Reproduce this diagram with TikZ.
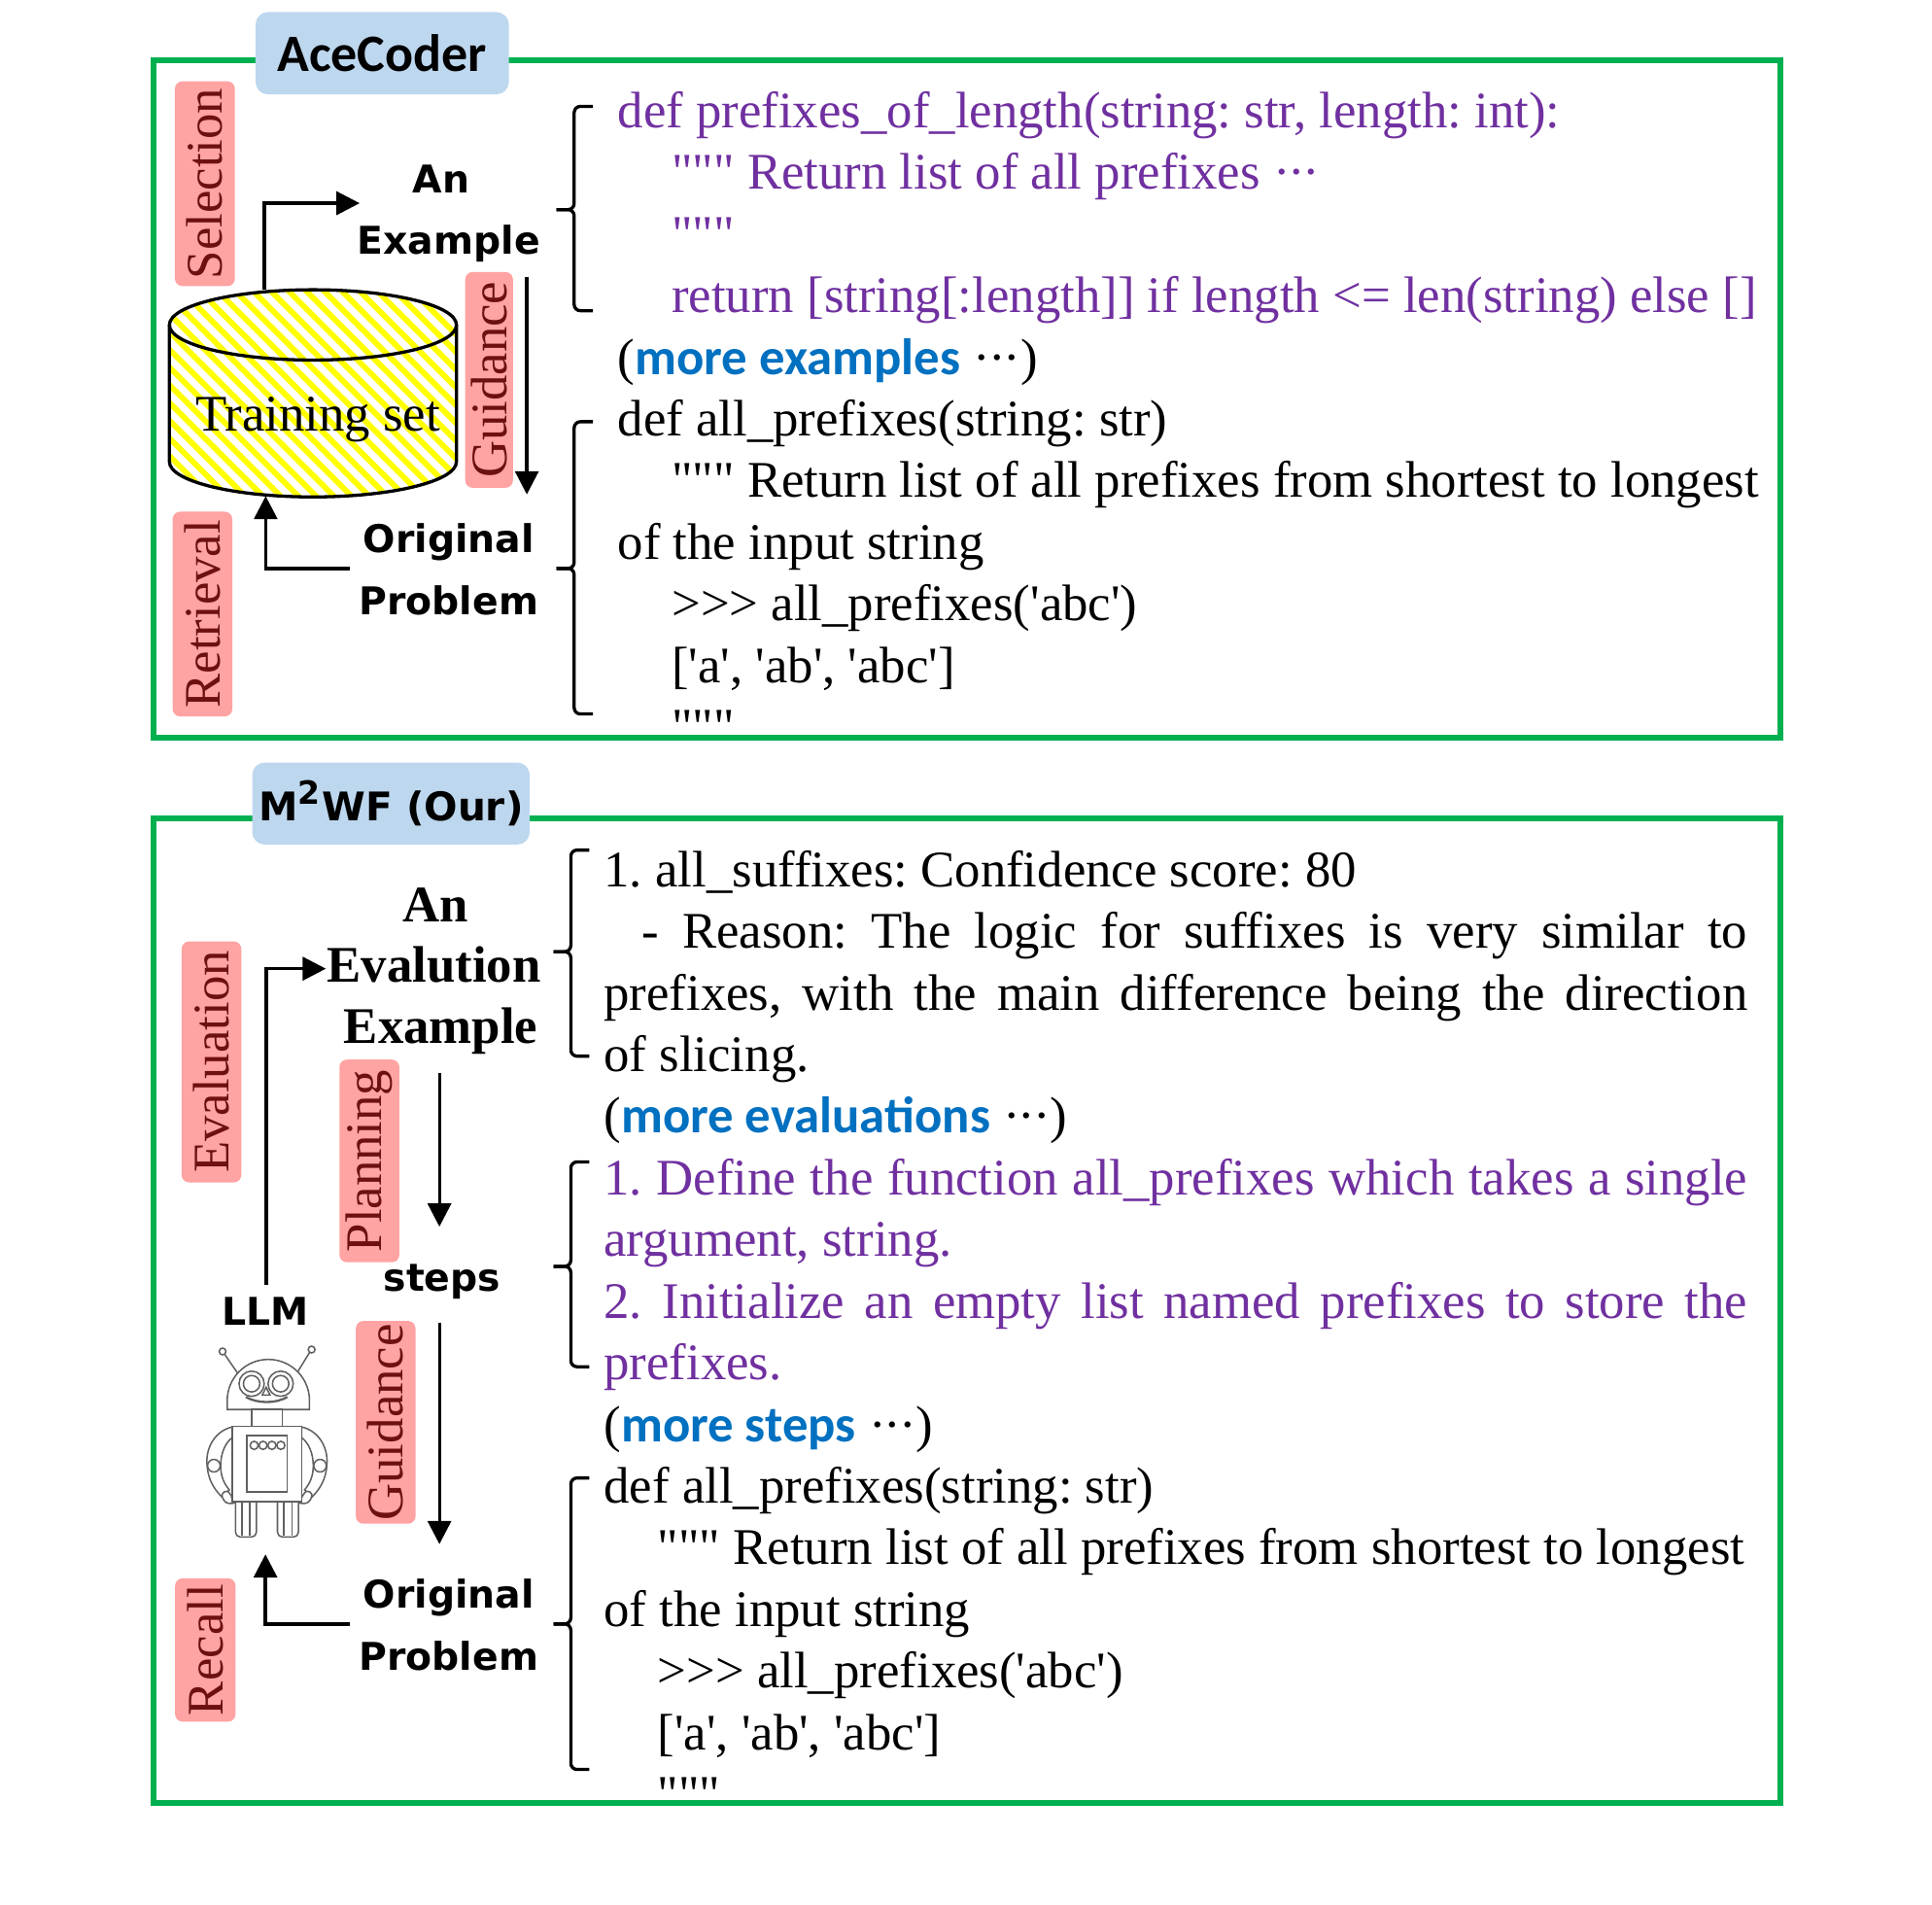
\documentclass[tikz,border=0pt]{standalone}
\usepackage{fontspec}
\setmainfont{Liberation Serif}[Ligatures={TeXOff,CommonOff}]
\newfontfamily\vfont{DejaVu Sans}
\newfontfamily\cfont{Carlito}
\usetikzlibrary{arrows.meta}
\definecolor{framegreen}{HTML}{00B050}
\definecolor{titleblue}{HTML}{BDD7EE}
\definecolor{tagpink}{HTML}{FFA3A3}
\definecolor{tagred}{HTML}{6E1010}
\definecolor{codepurple}{HTML}{7030A0}
\definecolor{moreblue}{HTML}{0070C0}
\definecolor{stripeyellow}{HTML}{FFFF00}
\definecolor{robotgray}{HTML}{606060}
\newcommand\cdts{·\kern-0.04em·\kern-0.04em·}
\newcommand\moretxt[1]{{\cfont\bfseries\color{moreblue}#1}}
\newcommand\robothalf{%
  \draw[fill=white] (240,1468) .. controls (222,1472) and (212,1490) .. (214,1508)
     .. controls (215,1522) and (221,1532) .. (229,1540) -- (237,1533)
     .. controls (231,1526) and (228,1518) .. (228,1508)
     .. controls (228,1495) and (233,1484) .. (240,1479) -- cycle;
  \draw[fill=white] (221,1508) circle[radius=6.5];
  \draw[fill=white, rounded corners=1.5pt] (228,1537) -- (233,1547) -- (244,1547) -- (248,1539) -- (242,1535) -- (239,1541) -- (236,1533) -- cycle;
  \draw[fill=white, rounded corners=2pt] (243.3,1545) -- (243.3,1581.7) -- (265,1581.7) -- (265,1545);
  \draw (250,1545) -- (250,1580);
  \draw (258.3,1545) -- (258.3,1580);
}
\begin{document}
\frenchspacing
\begin{tikzpicture}[x=0.5pt,y=-0.5pt,
  frame/.style={draw=framegreen, line width=2.3pt},
  titlebox/.style={fill=titleblue, rounded corners=5pt, inner sep=0pt},
  tagbox/.style={rotate=90, fill=tagpink, rounded corners=3pt, text=tagred, inner sep=0pt, font=\fontsize{20.8}{24}\selectfont},
  codeln/.style={anchor=base west, inner sep=0pt, font=\fontsize{20.8}{25}\selectfont},
  purp/.style={text=codepurple},
  lblsans/.style={anchor=base, inner sep=0pt, font=\vfont\bfseries\fontsize{15.5}{18}\selectfont},
  lblserif/.style={anchor=base, inner sep=0pt, font=\bfseries\fontsize{20.8}{24}\selectfont},
  arr/.style={line width=1.3pt, -{Triangle[length=9.4pt, width=9.4pt]}},
  cyl/.style={line width=1.3pt},
  bracel/.style={line width=1.3pt, rounded corners=2.5pt},
  robotline/.style={draw=robotgray, line width=0.6pt}]
\useasboundingbox (0,0) rectangle (1567,1544.9);

% ---------- top frame ----------
\draw[frame] (124.3,49) rectangle (1444,598.5);
\node[titlebox, minimum width=102.7pt, minimum height=33.35pt, font=\cfont\bfseries\fontsize{21.3}{24}\selectfont] (ace) at (310,43.2) {AceCoder};

% ---------- top panel: cylinder ----------
\begin{scope}
  \clip (137.4,374.5) -- (137.4,263.5) arc[start angle=180,end angle=360,x radius=116.4,y radius=28.5]
        -- (370.2,374.5) arc[start angle=0,end angle=180,x radius=116.4,y radius=28.5] -- cycle;
  \foreach \i in {0,...,34} \draw[stripeyellow, line width=2.3pt] ({-70+14.4*\i},220) -- ++(200,200);
\end{scope}
\draw[cyl] (137.4,263.5) -- (137.4,374.5) arc[start angle=180,end angle=0,x radius=116.4,y radius=28.5] -- (370.2,263.5);
\draw[cyl] (253.8,263.5) ellipse[x radius=116.4,y radius=28.5];
\node[anchor=base, inner sep=0pt, font=\fontsize{20.8}{24}\selectfont] (train) at (257.7,349.3) {Training set};

% tags top
\node[tagbox, minimum width=83pt, minimum height=24.35pt] (sel) at (166.2,149) {Selection};
\node[tagbox, minimum width=87.5pt, minimum height=19.35pt] (gui1) at (396.7,308.1) {Guidance};
\node[tagbox, minimum width=83pt, minimum height=24.2pt] (ret) at (164.2,498) {Retrieval};

% labels top
\node[lblsans] (an1) at (358,156.2) {An};
\node[lblsans] (ex1) at (364,206) {Example};
\node[lblsans] (or1) at (364,448.2) {Original};
\node[lblsans] (pr1) at (364,498.4) {Problem};

% arrows top
\coordinate (cyltop) at (214.5,234.7);
\coordinate (exin) at (291.7,164.8);
\coordinate (g1a) at (427.3,224.5);
\coordinate (g1b) at (427.3,401);
\coordinate (orout) at (283.9,461);
\coordinate (cylbot) at (215.5,402.3);
\draw[arr] (cyltop) |- (exin);
\draw[arr] (g1a) -- (g1b);
\draw[arr] (orout) -| (cylbot);

% braces top
\draw[bracel] (481,86.3) -- (465.7,86.3) -- (465.7,170) -- (451.3,170);
\draw[bracel] (451.3,170) -- (465.7,170) -- (465.7,252) -- (481,252);
\draw[bracel] (481,342) -- (465.7,342) -- (465.7,461) -- (451.3,461);
\draw[bracel] (451.3,461) -- (465.7,461) -- (465.7,579) -- (481,579);

% code top
\node[codeln,purp] (t0) at (500.7,103.5) {def prefixes\_of\_length(string: str, length: int):};
\node[codeln,purp] (t1) at (544.5,153.5) {""" Return list of all prefixes \cdts};
\node[codeln,purp] (t2) at (544.5,203.5) {"""};
\node[codeln,purp] (t3) at (544.5,253.5) {return [string[:length]] if length <= len(string) else []};
\node[codeln] (t4) at (500.7,303.5) {(\moretxt{more examples} \cdts)};
\node[codeln] (t5) at (500.7,353.5) {def all\_prefixes(string: str)};
\node[codeln] (t6) at (544.5,403.5) {""" Return list of all prefixes from shortest to longest};
\node[codeln] (t7) at (500.7,453.5) {of the input string};
\node[codeln] (t8) at (544.5,503.5) {>>> all\_prefixes('abc')};
\node[codeln] (t9) at (544.5,553.5) {['a', 'ab', 'abc']};
\node[codeln] (t10) at (544.5,603.5) {"""};

% ---------- bottom panel ----------
\begin{scope}[yshift=-1.5pt]
\draw[frame] (124.3,660.4) rectangle (1444,1459);
\node[titlebox, minimum width=112.5pt, minimum height=33.25pt, font=\vfont\bfseries\fontsize{16}{19}\selectfont] (m2wf) at (317.1,648.7) {M\raisebox{0.42em}{\fontsize{13}{13}\selectfont 2}\kern0.05em WF (Our)};

\node[tagbox, minimum width=97.7pt, minimum height=24.2pt] (eva) at (171.5,858.2) {Evaluation};
\node[tagbox, minimum width=82.15pt, minimum height=24.3pt] (pla) at (299.6,938.5) {Planning};
\node[tagbox, minimum width=82.2pt, minimum height=24.2pt] (gui2) at (312.8,1150.5) {Guidance};
\node[tagbox, minimum width=58.1pt, minimum height=24.5pt] (rec) at (166.5,1335.1) {Recall};

\node[lblserif] (an2) at (353,744.7) {An};
\node[lblserif] (ev2) at (352,793.7) {Evalution};
\node[lblserif] (ex2) at (357.5,843.5) {Example};
\node[lblsans] (steps) at (358.5,1044.4) {steps};
\node[lblsans] (llm) at (215.5,1072) {LLM};
\node[lblsans] (or2) at (364,1300.8) {Original};
\node[lblsans] (pr2) at (364,1351.7) {Problem};

\coordinate (llmtop) at (215.9,1039);
\coordinate (evin) at (264.3,782.6);
\coordinate (pa) at (356.4,867.4);
\coordinate (pb) at (356.4,991.8);
\coordinate (ga) at (356.4,1069.4);
\coordinate (gb) at (356.4,1249.3);
\coordinate (or2out) at (284,1314);
\coordinate (robbot) at (215.3,1257.5);
\draw[arr] (llmtop) |- (evin);
\draw[arr] (pa) -- (pb);
\draw[arr] (ga) -- (gb);
\draw[arr] (or2out) -| (robbot);

% braces bottom
\draw[bracel] (478,686.4) -- (463,686.4) -- (463,768.8) -- (449,768.8);
\draw[bracel] (449,768.8) -- (463,768.8) -- (463,853.5) -- (478,853.5);
\draw[bracel] (478,939.3) -- (463,939.3) -- (463,1024) -- (449,1024);
\draw[bracel] (449,1024) -- (463,1024) -- (463,1105.4) -- (478,1105.4);
\draw[bracel] (478,1195.6) -- (463,1195.6) -- (463,1314) -- (449,1314);
\draw[bracel] (449,1314) -- (463,1314) -- (463,1432) -- (478,1432);

% text bottom
\node[codeln] (b0) at (489.5,716) {1. all\_suffixes: Confidence score: 80};
\node[codeln] (b1) at (520,766) {\makebox[448.5pt][s]{- Reason: The logic for suffixes is very similar to}};
\node[codeln] (b2) at (489.5,816) {\makebox[463.75pt][s]{prefixes, with the main difference being the direction}};
\node[codeln] (b3) at (489.5,866) {of slicing.};
\node[codeln] (b4) at (489.5,916) {(\moretxt{more evaluations} \cdts)};
\node[codeln,purp] (b5) at (489.5,966) {\makebox[463.75pt][s]{1. Define the function all\_prefixes which takes a single}};
\node[codeln,purp] (b6) at (489.5,1016) {argument, string.};
\node[codeln,purp] (b7) at (489.5,1066) {\makebox[463.75pt][s]{2. Initialize an empty list named prefixes to store the}};
\node[codeln,purp] (b8) at (489.5,1116) {prefixes.};
\node[codeln] (b9) at (489.5,1166) {(\moretxt{more steps} \cdts)};
\node[codeln] (b10) at (489.5,1216) {def all\_prefixes(string: str)};
\node[codeln] (b11) at (533,1266) {""" Return list of all prefixes from shortest to longest};
\node[codeln] (b12) at (489.5,1316) {of the input string};
\node[codeln] (b13) at (533,1366) {>>> all\_prefixes('abc')};
\node[codeln] (b14) at (533,1416) {['a', 'ab', 'abc']};
\node[codeln] (b15) at (533,1466) {"""};
\end{scope}

% robot
\begin{scope}[yshift=-2.5pt, x=0.39246pt,y=-0.39246pt, robotline]
  \draw (231.5,1392) -- (246,1413);
  \draw (320.5,1390) -- (307,1412);
  \draw[fill=white] (230,1390) circle[radius=3.5];
  \draw[fill=white] (322,1388) circle[radius=3.5];
  \robothalf
  \begin{scope}[xshift=216.52pt, xscale=-1]
    \robothalf
  \end{scope}
  \draw[fill=white] (234.8,1450) -- (234.8,1440.7) arc[start angle=180,end angle=360,radius=42.5] -- (319.8,1450) -- cycle;
  \foreach \ex in {260,290} {\draw (\ex,1423.3) circle[radius=13]; \draw (\ex,1423.3) circle[radius=8.5];}
  \draw (275,1427) -- (271,1435) -- (279,1435) -- cycle;
  \draw[line width=0.9pt] (254,1437) .. controls (266,1444) and (285,1444) .. (297,1437);
  \draw[fill=white] (260,1450) rectangle (291.7,1467.3);
  \draw[fill=white] (240,1467.3) rectangle (311.7,1545);
  \draw (255,1476.7) rectangle (296.7,1535);
  \foreach \cx in {262.6,271.8,281,290.2} \draw (\cx,1487) circle[radius=4.2];
\end{scope}
\end{tikzpicture}
\end{document}
